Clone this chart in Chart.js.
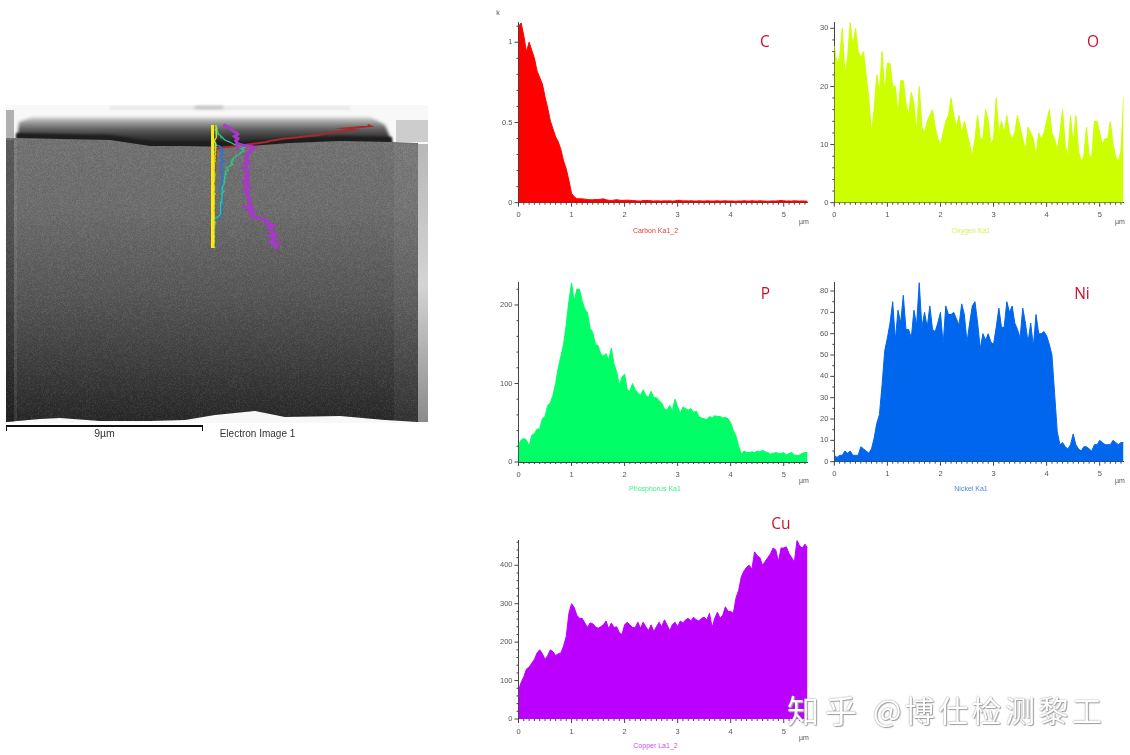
<!DOCTYPE html>
<html>
<head>
<meta charset="utf-8">
<title>EDS line scan</title>
<script src="https://cdn.jsdelivr.net/npm/chart.js@4/dist/chart.umd.min.js"></script>
<style>
    html, body { margin: 0; background: #fff; overflow: hidden; }
    #page { position: relative; width: 1130px; height: 755px; overflow: hidden; }
    canvas { position: absolute; }
    .label { position: absolute; white-space: nowrap; transform: translate(-50%, -50%); font-family: "Liberation Sans", sans-serif; }
    .element { font-family: "Open Sans", sans-serif; font-size: 15.5px; color: #c8102e; }
    .caption { font-size: 7px; }
    .unit { font-size: 7px; color: #555; }
    .photo { font-size: 10.5px; color: #333; }
    .photo.wide { font-size: 10px; }
    #scaleBar { position: absolute; left: 6px; top: 425px; width: 195px; height: 4px; border: 1px solid #111; border-top-width: 2px; border-bottom: 0; }
    .mark { position: absolute; top: 688px; font-family: "Noto Sans CJK SC", sans-serif; line-height: 42px; color: #fff; text-shadow: 0 0 1.5px #777, 1px 1px 1px #aaa; white-space: pre; }
    #markLogo { left: 787px; font-size: 32px; letter-spacing: 6px; }
    #markName { left: 873px; font-size: 30px; letter-spacing: 3.4px; }
</style>
</head>
<body>
<div id="page">
    <div id="scaleBar"></div>
    <div class="mark" id="markLogo">知乎</div>
    <div class="mark" id="markName">@博仕检测黎工</div>
</div>
<script>
// distance along the scan line, um
const distances = [
    0.00, 0.05, 0.10, 0.15, 0.20, 0.25, 0.30, 0.35, 0.40, 0.45,
    0.50, 0.55, 0.60, 0.65, 0.70, 0.75, 0.80, 0.85, 0.90, 0.95,
    1.00, 1.05, 1.10, 1.15, 1.20, 1.25, 1.30, 1.35, 1.40, 1.45,
    1.50, 1.55, 1.60, 1.65, 1.70, 1.75, 1.80, 1.85, 1.90, 1.95,
    2.00, 2.05, 2.10, 2.15, 2.20, 2.25, 2.30, 2.35, 2.40, 2.45,
    2.50, 2.55, 2.60, 2.65, 2.70, 2.75, 2.80, 2.85, 2.90, 2.95,
    3.00, 3.05, 3.10, 3.15, 3.20, 3.25, 3.30, 3.35, 3.40, 3.45,
    3.50, 3.55, 3.60, 3.65, 3.70, 3.75, 3.80, 3.85, 3.90, 3.95,
    4.00, 4.05, 4.10, 4.15, 4.20, 4.25, 4.30, 4.35, 4.40, 4.45,
    4.50, 4.55, 4.60, 4.65, 4.70, 4.75, 4.80, 4.85, 4.90, 4.95,
    5.00, 5.05, 5.10, 5.15, 5.20, 5.25, 5.30, 5.35, 5.40, 5.45
];

// carbon is plotted in thousands of counts
const carbon = [
    1.10, 1.12, 1.04, 0.94, 1.00, 0.95, 0.90, 0.82, 0.78, 0.74,
    0.66, 0.59, 0.51, 0.46, 0.41, 0.38, 0.33, 0.26, 0.21, 0.14,
    0.058, 0.037, 0.024, 0.025, 0.024, 0.022, 0.020, 0.018, 0.018, 0.020,
    0.019, 0.022, 0.024, 0.018, 0.015, 0.014, 0.016, 0.019, 0.016, 0.014,
    0.015, 0.016, 0.015, 0.014, 0.012, 0.011, 0.010, 0.013, 0.014, 0.013,
    0.012, 0.010, 0.012, 0.011, 0.010, 0.012, 0.011, 0.012, 0.010, 0.011,
    0.015, 0.014, 0.011, 0.012, 0.011, 0.012, 0.011, 0.010, 0.012, 0.011,
    0.010, 0.012, 0.011, 0.010, 0.011, 0.012, 0.010, 0.011, 0.012, 0.010,
    0.011, 0.010, 0.009, 0.011, 0.010, 0.012, 0.011, 0.010, 0.012, 0.011,
    0.010, 0.012, 0.011, 0.010, 0.009, 0.010, 0.011, 0.010, 0.012, 0.014,
    0.012, 0.010, 0.011, 0.010, 0.012, 0.011, 0.010, 0.011, 0.010, 0.009
];
const oxygen = [
    27, 24, 25, 30, 22, 25, 31, 27, 30, 26,
    25, 26, 22, 18, 12, 16, 22, 19, 26, 19,
    24, 24, 20, 20, 15, 21, 21, 17, 15, 19,
    17, 12, 20, 13, 12, 14, 15, 16, 13, 11,
    10, 12, 14, 15, 18, 15, 13, 15, 12, 14,
    12, 10, 8, 11, 15, 11, 11, 16, 14, 10,
    11, 18, 12, 14, 12, 15, 12, 11, 12, 15,
    13, 11, 9, 13, 12, 11, 8, 12, 11, 12,
    14, 16, 12, 11, 9, 12, 16, 10, 8, 15,
    10, 15, 9, 7, 8, 13, 8, 8, 14, 14,
    12, 10, 11, 11, 14, 10, 8, 7, 9, 18
];
const phosphorus = [
    22, 28, 30, 28, 20, 34, 36, 42, 42, 55,
    58, 72, 75, 85, 100, 120, 135, 150, 175, 205,
    228, 205, 220, 220, 205, 195, 190, 170, 165, 150,
    148, 138, 135, 138, 130, 145, 125, 115, 98, 108,
    112, 92, 90, 100, 92, 88, 85, 92, 85, 82,
    90, 82, 82, 78, 75, 68, 66, 72, 65, 80,
    70, 62, 70, 68, 66, 68, 63, 65, 58, 56,
    55, 54, 58, 56, 59, 58, 58, 56, 57, 55,
    50, 40, 33, 20, 10, 14, 12, 12, 13, 12,
    14, 13, 15, 13, 12, 10, 11, 12, 11, 11,
    12, 9, 11, 12, 9, 8, 9, 11, 12, 12
];
const nickel = [
    3, 2, 3, 3, 5, 4, 5, 3, 3, 3,
    7, 6, 5, 4, 6, 11, 18, 22, 36, 52,
    58, 65, 75, 57, 71, 65, 78, 62, 62, 58,
    71, 64, 84, 63, 70, 63, 73, 62, 61, 65,
    70, 55, 73, 69, 69, 70, 67, 64, 74, 69,
    56, 65, 73, 75, 65, 53, 60, 57, 60, 56,
    55, 63, 72, 63, 63, 75, 70, 73, 65, 62,
    58, 72, 65, 56, 65, 54, 69, 60, 60, 61,
    59, 55, 50, 32, 14, 8, 9, 7, 6, 8,
    13, 8, 6, 5, 7, 7, 6, 5, 8, 8,
    10, 9, 8, 8, 8, 10, 9, 8, 9, 9
];
const copper = [
    75, 95, 110, 130, 135, 145, 155, 172, 180, 170,
    155, 165, 180, 175, 165, 170, 172, 190, 215, 275,
    300, 290, 270, 262, 262, 250, 238, 250, 248, 240,
    236, 240, 245, 255, 235, 250, 238, 240, 225, 220,
    245, 252, 245, 238, 238, 252, 236, 252, 240, 230,
    245, 228, 240, 252, 240, 258, 245, 230, 245, 252,
    240, 255, 250, 258, 262, 255, 265, 258, 255, 262,
    265, 258, 275, 238, 262, 278, 262, 270, 292, 280,
    280, 275, 315, 335, 370, 385, 395, 400, 390, 435,
    425, 420, 400, 410, 420, 430, 445, 440, 410, 445,
    445, 448, 430, 420, 408, 465, 450, 445, 455, 445
];

const page = document.getElementById('page');

function addLabel(text, cls, x, y, color) {
    const el = document.createElement('div');
    el.className = 'label ' + cls;
    el.textContent = text;
    el.style.left = x + 'px';
    el.style.top = y + 'px';
    if (color) el.style.color = color;
    page.appendChild(el);
}

function addCanvas(left, top, width, height) {
    const canvas = document.createElement('canvas');
    canvas.width = width;
    canvas.height = height;
    canvas.style.left = left + 'px';
    canvas.style.top = top + 'px';
    canvas.style.width = width + 'px';
    canvas.style.height = height + 'px';
    page.insertBefore(canvas, page.firstChild);
    return canvas.getContext('2d');
}

// Chart.js has one tick length per axis; the profiles need long and short ticks
const shortAndLongTicks = {
    id: 'shortAndLongTicks',
    afterDraw(chart) {
        const ctx = chart.ctx;
        const area = chart.chartArea;
        ctx.save();
        ctx.strokeStyle = '#444';
        ctx.lineWidth = 1;
        ctx.beginPath();
        chart.scales.x.ticks.forEach(tick => {
            const px = chart.scales.x.getPixelForValue(tick.value);
            ctx.moveTo(px, area.bottom);
            ctx.lineTo(px, area.bottom + (tick.label === '' ? 2 : 4));
        });
        chart.scales.y.ticks.forEach(tick => {
            const py = chart.scales.y.getPixelForValue(tick.value);
            ctx.moveTo(area.left, py);
            ctx.lineTo(area.left - (tick.label === '' ? 2 : 4), py);
        });
        ctx.stroke();
        ctx.restore();
    }
};

function createProfile(opts) {
    const leftGutter = 40, topGutter = 8, bottomGutter = 16, rightGutter = 4;
    const fracLeft = opts.left - Math.floor(opts.left);
    const fracTop = opts.top - Math.floor(opts.top);
    const ctx = addCanvas(Math.floor(opts.left) - leftGutter, Math.floor(opts.top) - topGutter,
        Math.ceil(opts.width) + leftGutter + rightGutter + 1,
        Math.ceil(opts.height) + topGutter + bottomGutter + 1);

    return new Chart(ctx, {
        type: 'line',
        data: {
            datasets: [{
                label: opts.caption,
                data: distances.map((d, i) => ({ x: d, y: opts.values[i] })),
                borderColor: opts.color,
                backgroundColor: opts.color,
                borderWidth: 1,
                fill: 'origin',
                tension: 0,
                pointRadius: 0
            }]
        },
        options: {
            responsive: false,
            animation: false,
            layout: {
                padding: {
                    left: 0,
                    top: topGutter + fracTop,
                    right: Math.ceil(opts.width) - opts.width + rightGutter + 1 - fracLeft,
                    bottom: 0
                }
            },
            plugins: { legend: { display: false }, tooltip: { enabled: false } },
            scales: {
                x: {
                    type: 'linear',
                    min: 0,
                    max: 5.45,
                    grid: { display: false, drawTicks: false },
                    border: { color: '#444', width: 1 },
                    afterFit: scale => { scale.height = bottomGutter + Math.ceil(opts.height) - opts.height + 1 - fracTop; },
                    ticks: {
                        stepSize: 0.1,
                        includeBounds: false,
                        autoSkip: false,
                        maxRotation: 0,
                        padding: 8,
                        color: '#555',
                        font: { family: 'Liberation Sans', size: 7.5 },
                        callback: v => Math.abs(v - Math.round(v)) < 1e-6 ? String(Math.round(v)) : ''
                    }
                },
                y: {
                    min: 0,
                    max: opts.yMax,
                    grid: { display: false, drawTicks: false },
                    border: { color: '#444', width: 1 },
                    afterFit: scale => { scale.width = leftGutter + fracLeft; },
                    ticks: {
                        stepSize: opts.minorStep,
                        includeBounds: false,
                        autoSkip: false,
                        padding: 6,
                        color: '#555',
                        font: { family: 'Liberation Sans', size: 7.5 },
                        callback: v => {
                            const n = v / opts.labelStep;
                            return Math.abs(n - Math.round(n)) < 1e-6 ? String(Math.round(n) * opts.labelStep) : '';
                        }
                    }
                }
            }
        },
        plugins: [shortAndLongTicks]
    });
}

createProfile({ caption: 'Carbon Ka1_2', values: carbon, color: '#ff0000', left: 518.5, top: 20.7, width: 289.5, height: 182, yMax: 1.123, minorStep: 0.1, labelStep: 0.5 });
createProfile({ caption: 'Oxygen Ka1', values: oxygen, color: '#ccff00', left: 834.3, top: 20.7, width: 289.5, height: 182, yMax: 31, minorStep: 2, labelStep: 10 });
createProfile({ caption: 'Phosphorus Ka1', values: phosphorus, color: '#00ff66', left: 518.5, top: 280, width: 289.5, height: 182, yMax: 228.6, minorStep: 20, labelStep: 100 });
createProfile({ caption: 'Nickel Ka1', values: nickel, color: '#0066ee', left: 834.3, top: 280, width: 289.5, height: 181.7, yMax: 84, minorStep: 5, labelStep: 10 });
createProfile({ caption: 'Copper La1_2', values: copper, color: '#bb00ff', left: 518.5, top: 538.3, width: 289.5, height: 180.7, yMax: 464.5, minorStep: 20, labelStep: 100 });

// top edge of the metal under the coating, then its bottom edge
const surfaceEdge = [[16, 138], [60, 139], [110, 140], [150, 146], [180, 146], [230, 147], [250, 146], [290, 143], [340, 141], [392, 142]];
const floorEdge = [[418, 422], [385, 420], [340, 416], [285, 417], [255, 411], [215, 415], [185, 420], [150, 421], [100, 421], [60, 418], [40, 419], [6, 422]];

function tracePath(ctx, points) {
    points.forEach((p, i) => i ? ctx.lineTo(p[0], p[1]) : ctx.moveTo(p[0], p[1]));
}

function grainTile() {
    const tile = document.createElement('canvas');
    tile.width = tile.height = 150;
    const tileCtx = tile.getContext('2d');
    const img = tileCtx.createImageData(150, 150);
    for (let j = 0; j < 150; j++) {
        for (let i = 0; i < 150; i++) {
            const h = Math.sin(i * 12.9898 + j * 78.233) * 43758.5453;
            const v = h - Math.floor(h);
            const k = (j * 150 + i) * 4;
            img.data[k] = img.data[k + 1] = img.data[k + 2] = v > 0.5 ? 255 : 0;
            img.data[k + 3] = Math.abs(v - 0.5) * 36;
        }
    }
    tileCtx.putImageData(img, 0, 0);
    return tile;
}

// grainy electron image painted behind the overlay traces (page coordinates, origin moved below)
const semBackdrop = {
    id: 'semBackdrop',
    beforeDatasetsDraw(chart) {
        const ctx = chart.ctx;
        ctx.save();
        ctx.translate(0, -95);

        ctx.fillStyle = '#f8f8f8';
        ctx.fillRect(6, 105, 422, 318);

        ctx.save();
        ctx.filter = 'blur(1.5px)';
        ctx.fillStyle = '#dcdcdc';
        ctx.fillRect(110, 107, 240, 2);
        ctx.fillStyle = '#bdbdbd';
        ctx.fillRect(195, 106, 28, 3);

        // dark coating band, soft on its upper side
        let grad = ctx.createLinearGradient(0, 116, 0, 146);
        grad.addColorStop(0, '#e8e8e8');
        grad.addColorStop(0.2, '#a0a0a0');
        grad.addColorStop(0.45, '#5e5e5e');
        grad.addColorStop(0.7, '#363636');
        grad.addColorStop(1, '#1e1e1e');
        ctx.fillStyle = grad;
        ctx.beginPath();
        tracePath(ctx, [[17, 142], [19, 122], [32, 117], [370, 117], [385, 125], [392, 142], [392, 150], [17, 150]]);
        ctx.closePath();
        ctx.fill();

        ctx.filter = 'blur(1px)';
        ctx.strokeStyle = '#1e1e1e';
        ctx.lineWidth = 6;
        ctx.beginPath();
        tracePath(ctx, surfaceEdge.map(p => [p[0], p[1] - 2]));
        ctx.stroke();
        ctx.restore();

        // upper corners
        ctx.fillStyle = '#cdcdcd';
        ctx.fillRect(396, 120, 32, 22);
        ctx.fillStyle = '#b0b0b0';
        ctx.fillRect(6, 110, 8, 30);

        // main body with wavy top and bottom edges
        grad = ctx.createLinearGradient(0, 140, 0, 423);
        grad.addColorStop(0, '#727272');
        grad.addColorStop(0.25, '#6c6c6c');
        grad.addColorStop(0.55, '#565656');
        grad.addColorStop(0.8, '#3c3c3c');
        grad.addColorStop(1, '#262626');
        ctx.fillStyle = grad;
        ctx.beginPath();
        tracePath(ctx, [[6, 138]].concat(surfaceEdge, [[418, 143]], floorEdge));
        ctx.closePath();
        ctx.fill();

        // vertical edge strips
        ctx.fillStyle = 'rgba(255,255,255,0.06)';
        ctx.fillRect(394, 144, 24, 277);
        ctx.fillStyle = 'rgba(0,0,0,0.22)';
        ctx.fillRect(6, 140, 8, 282);
        ctx.fillStyle = 'rgba(255,255,255,0.08)';
        ctx.fillRect(14, 140, 3, 281);
        grad = ctx.createLinearGradient(0, 145, 0, 423);
        grad.addColorStop(0, '#b8b8b8');
        grad.addColorStop(0.5, '#d4d4d4');
        grad.addColorStop(1, '#8a8a8a');
        ctx.fillStyle = grad;
        ctx.fillRect(418, 144, 10, 278);

        // grain over the body so the surface is not flat
        ctx.fillStyle = ctx.createPattern(grainTile(), 'repeat');
        ctx.beginPath();
        tracePath(ctx, [[6, 138]].concat(surfaceEdge, [[418, 143]], floorEdge));
        ctx.closePath();
        ctx.fill();

        ctx.restore();
    }
};

// the same profiles, laid along the scan line over the image: x in counts, y in um
function trace(values, color, width, factor) {
    return {
        data: distances.map((d, i) => ({ x: values[i] * factor, y: d })),
        borderColor: color,
        borderWidth: width,
        pointRadius: 0,
        tension: 0
    };
}

new Chart(addCanvas(0, 95, 440, 350), {
    type: 'line',
    data: {
        datasets: [
            { data: [{ x: 0, y: 0 }, { x: 0, y: 5.45 }], borderColor: '#ffe81a', borderWidth: 3, pointRadius: 0 },
            trace(oxygen, '#b4e01e', 1.5, 1),
            trace(copper, '#a838c8', 3, 1),
            trace(phosphorus, '#2fc488', 1.3, 1),
            trace(nickel, '#2f72d0', 1.5, 1),
            trace(carbon, '#a82a2a', 2, 1000)
        ]
    },
    options: {
        responsive: false,
        animation: false,
        plugins: { legend: { display: false }, tooltip: { enabled: false } },
        scales: {
            x: { type: 'linear', display: false, min: -1507, max: 1613 },
            y: { type: 'linear', display: false, reverse: true, min: -1.329, max: 14.18 }
        }
    },
    plugins: [semBackdrop]
});

addLabel('C', 'element', 765, 41);
addLabel('O', 'element', 1093, 41);
addLabel('P', 'element', 765.5, 293);
addLabel('Ni', 'element', 1082, 293);
addLabel('Cu', 'element', 781, 523);

addLabel('Carbon Ka1_2', 'caption', 655.5, 229.5, '#e8403a');
addLabel('Oxygen Ka1', 'caption', 971, 229.5, '#d6f050');
addLabel('Phosphorus Ka1', 'caption', 655, 488, '#3ff08a');
addLabel('Nickel Ka1', 'caption', 971, 488, '#4a86e8');
addLabel('Copper La1_2', 'caption', 655.5, 745, '#c850f5');

addLabel('µm', 'unit', 804, 221);
addLabel('µm', 'unit', 1120, 221);
addLabel('µm', 'unit', 804, 480);
addLabel('µm', 'unit', 1120, 480);
addLabel('µm', 'unit', 804, 737);
addLabel('k', 'unit', 498, 12);

addLabel('9µm', 'photo', 104.5, 432.5);
addLabel('Electron Image 1', 'photo wide', 257.5, 432.5);
</script>
</body>
</html>
